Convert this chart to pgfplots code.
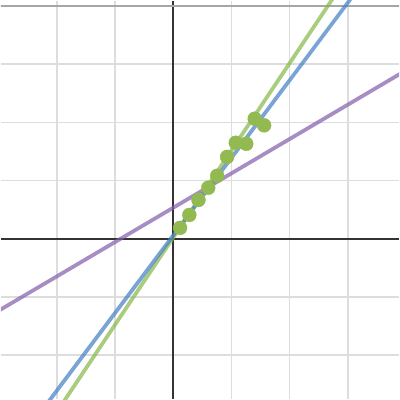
\documentclass[border=0pt]{standalone}
\usepackage{pgfplots}
\pgfplotsset{compat=1.18}

\definecolor{ptgreen}{RGB}{146,186,80}
\definecolor{lngreen}{RGB}{133,182,72}
\definecolor{lnblue}{RGB}{66,126,196}
\definecolor{lnpurple}{RGB}{129,93,171}
\definecolor{gridgray}{RGB}{221,221,221}

\begin{document}
\begin{tikzpicture}
\begin{axis}[
    scale only axis,
    width=400pt, height=400pt,
    xmin=-2.959, xmax=3.879,
    ymin=-2.752, ymax=4.085,
    axis lines=middle,
    axis line style={black!80, line width=2pt, -},
    xtick={-2,...,3}, ytick={-2,...,4},
    xticklabels={}, yticklabels={},
    major tick length=0pt,
    grid=major,
    grid style={gridgray, line width=1.6pt},
    clip=true,
]
% top grid line is drawn darker
\addplot[black!35, line width=2.2pt] coordinates {(-3,4) (4,4)};

% observed points
\addplot[only marks, mark=*, mark size=7pt, ptgreen, mark options={draw=none, fill=ptgreen}] coordinates {
    (0.118,0.188) (0.277,0.410) (0.434,0.667) (0.602,0.877) (0.756,1.082)
    (0.926,1.407) (1.075,1.650) (1.255,1.632) (1.400,2.063) (1.562,1.949)
};

% fitted lines
\addplot[lngreen, opacity=0.7, line width=3.8pt] coordinates {(-3,-4.473) (4,6.013)};
\addplot[lnblue, opacity=0.7, line width=3.8pt] coordinates {(-3,-3.941) (4,5.390)};
\addplot[lnpurple, opacity=0.7, line width=3.8pt] coordinates {(-3,-1.236) (4,2.894)};
\end{axis}
\end{tikzpicture}
\end{document}
